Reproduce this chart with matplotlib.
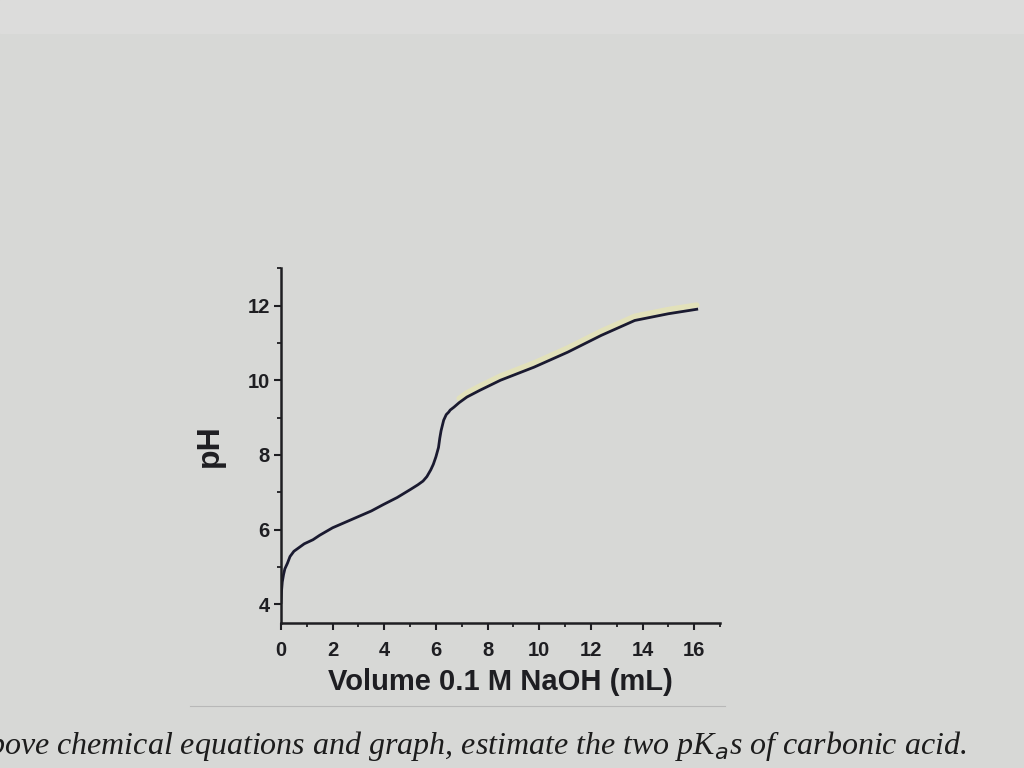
import matplotlib.pyplot as plt
from matplotlib.ticker import MultipleLocator
from matplotlib.transforms import ScaledTranslation

# Titration curve
volume = [0.0, 0.02, 0.05, 0.1, 0.15, 0.25, 0.35, 0.5, 0.7, 0.9, 1.24, 1.5, 2.0, 2.5, 3.0, 3.5, 3.96,
          4.5, 5.0, 5.3, 5.5, 5.65, 5.8, 5.9, 6.0, 6.1, 6.15, 6.2, 6.3, 6.4, 6.5, 6.55, 6.7, 6.9,
          7.2, 7.7, 8.5, 9.8, 11.1, 12.4, 13.7, 15.0, 16.1]
ph = [4.05, 4.35, 4.6, 4.8, 4.95, 5.1, 5.28, 5.42, 5.52, 5.62, 5.73, 5.85, 6.05, 6.2, 6.35, 6.5, 6.67,
      6.86, 7.07, 7.2, 7.3, 7.42, 7.6, 7.75, 7.95, 8.2, 8.45, 8.65, 8.93, 9.08, 9.15, 9.2, 9.28, 9.4,
      9.55, 9.73, 10.0, 10.35, 10.75, 11.2, 11.6, 11.78, 11.9]

x_ticks = [0, 2, 4, 6, 8, 10, 12, 14, 16]
y_ticks = [4, 6, 8, 10, 12]

paper = '#d7d8d6'
ink = '#1e1e22'

fig = plt.figure(figsize=(10.24, 7.68), dpi=100, facecolor=paper)
# lighter sheet showing at the top of the photo
fig.add_artist(plt.Rectangle((0, 1 - 33 / 768), 1, 33 / 768, color='#dcdcdb', zorder=0))

ax = fig.add_axes([0.2744, 0.1888, 0.4287, 0.462])
ax.set_facecolor(paper)

# faint yellow highlighter stroke just above the upper part of the curve
hl = ax.transData + ScaledTranslation(0, 3 / 72, fig.dpi_scale_trans)
ax.plot(volume[33:], ph[33:], color='#e6e4b4', linewidth=4, alpha=0.8, transform=hl,
        solid_capstyle='round')
ax.plot(volume, ph, color='#1a1a30', linewidth=2)

ax.set_xlim(0, 17)
ax.set_ylim(3.5, 13)
ax.set_xticks(x_ticks)
ax.set_yticks(y_ticks)
ax.xaxis.set_minor_locator(MultipleLocator(1))
ax.yaxis.set_minor_locator(MultipleLocator(1))

for side in ['top', 'right']:
    ax.spines[side].set_visible(False)
for side in ['left', 'bottom']:
    ax.spines[side].set_color(ink)
    ax.spines[side].set_linewidth(1.8)

ax.tick_params(which='major', length=5, width=1.5, color=ink, labelsize=14.5,
               labelcolor=ink, pad=3)
ax.tick_params(axis='x', which='major', pad=8)
ax.tick_params(which='minor', length=3, width=1.3, color=ink)
for lbl in ax.get_xticklabels() + ax.get_yticklabels():
    lbl.set_family('Liberation Sans')
    lbl.set_fontweight('bold')

ax.set_xlabel('Volume 0.1 M NaOH (mL)', fontsize=21, fontweight='bold',
              family='Liberation Sans', color=ink, labelpad=6)
ax.set_ylabel('pH', fontsize=23, fontweight='bold', family='Liberation Sans',
              color=ink, labelpad=16)

# page details from the printed sheet
fig.add_artist(plt.Line2D([190 / 1024, 725 / 1024], [62 / 768, 62 / 768],
                          color='#b8b8b8', linewidth=0.8))
fig.text(-0.012, 0.006, 'bove chemical equations and graph, estimate the two pK$_a$s of carbonic acid.',
         fontsize=23, style='italic', family='Liberation Serif', color='#1c1c1c',
         ha='left', va='bottom')

fig.savefig('out.png', dpi=100, facecolor=paper)
